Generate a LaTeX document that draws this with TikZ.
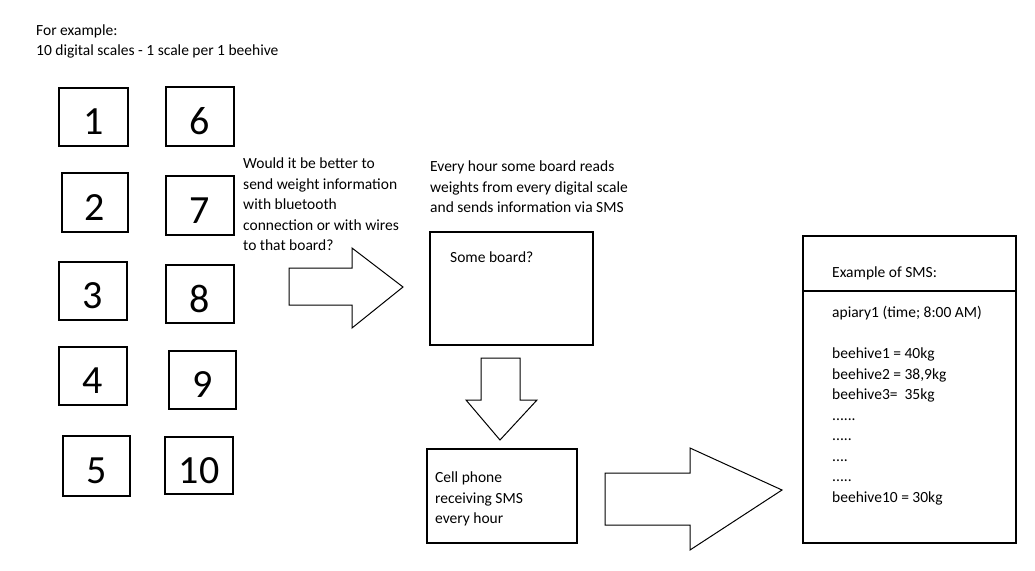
\documentclass[tikz,border=0pt]{standalone}
\usepackage{fontspec}
\setmainfont{Carlito}
\begin{document}
\begin{tikzpicture}[x=1pt,y=-1pt,
  txt/.style={anchor=west,inner sep=0pt,font=\fontsize{15.5}{20.5}\selectfont},
  arrowshape/.style={draw,line width=1pt}]
\useasboundingbox[fill=white] (0,0) rectangle (1035,570);
\node[txt] (t1) at (36,31) {For example:};
\node[txt] (t2) at (36,51) {10 digital scales - 1 scale per 1 beehive};
\foreach \n/\a/\b/\c/\d in {1/59/88/128/146,6/166/87/234/146,2/62/173/128/232,7/166/176/234/235,3/59/262/127/320,8/166/265/234/323,4/59/347/127/405,9/169/351/236/409,5/63/436/130/496,10/165/437/233/494}{
  \draw[line width=1.3pt] (\a,\b) rectangle (\c,\d);
  \node[font=\fontsize{40}{40}\selectfont] (n\n) at ({(\a+\c)/2},{(\b+\d)/2+5}) {\n};
}
\node[txt,align=left,anchor=north west] (q) at (243,158) {Would it be better to\\send weight information\\with bluetooth\\connection or with wires\\to that board?};
\node[txt,align=left,anchor=north west] (e) at (430,161) {Every hour some board reads\\weights from every digital scale\\and sends information via SMS};
\draw[arrowshape] (289,268) -- (352,268) -- (352,248) -- (403,287) -- (352,328) -- (352,305) -- (289,305) -- cycle;
\draw[line width=1.3pt] (430,232) rectangle (593,345);
\node[txt] (sb) at (450,257) {Some board?};
\draw[arrowshape] (481,358) -- (520,358) -- (520,400) -- (537,400) -- (500,440) -- (466,400) -- (481,400) -- cycle;
\draw[line width=1.3pt] (427,449) rectangle (577,543);
\node[txt,align=left,anchor=north west] (cp) at (435,472) {Cell phone\\receiving SMS\\every hour};
\draw[arrowshape] (605,473) -- (690,473) -- (690,448) -- (782,490) -- (690,550) -- (690,525) -- (605,525) -- cycle;
\draw[line width=1.3pt] (803,236) rectangle (1016,543);
\draw[line width=1.3pt] (803,291) -- (1016,291);
\node[txt] (ex) at (832,273) {Example of SMS:};
\node[txt,align=left,anchor=north west] (sms) at (832,306) {apiary1 (time; 8:00 AM)\\[20.5pt]beehive1 = 40kg\\beehive2 = 38,9kg\\beehive3=\ \ 35kg\\......\\.....\\....\\.....\\beehive10 = 30kg};
\end{tikzpicture}
\end{document}
